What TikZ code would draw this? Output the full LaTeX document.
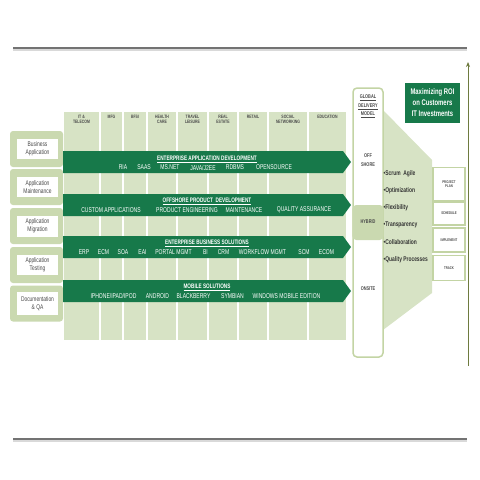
\documentclass[tikz,border=0pt]{standalone}
\usepackage{fontspec}
\setmainfont{Liberation Sans}[FakeStretch=0.72]
\usetikzlibrary{arrows.meta}

\definecolor{verdeEscuro}{HTML}{17794A}
\definecolor{verdeClaro}{HTML}{D7E3C5}
\definecolor{verdeCaixa}{HTML}{CAD9B0}
\definecolor{verdeBorda}{HTML}{C3D4A4}
\definecolor{oliva}{HTML}{6E7B3F}
\definecolor{textoCinza}{HTML}{4A4A4A}

\tikzset{
  caixaBranca/.style={fill=white, inner sep=0pt, minimum width=41pt, align=center, font=\fontsize{6.8}{7.8}\selectfont, text=textoCinza},
  cabecalho/.style={align=center, font=\fontsize{4.8}{5.4}\bfseries\selectfont, text=textoCinza, inner sep=0pt},
  tituloBanda/.style={text=white, font=\fontsize{6.5}{7}\bfseries\selectfont, inner sep=0pt},
  itemBanda/.style={text=white, font=\fontsize{7}{7.5}\selectfont, inner sep=0pt},
  modelo/.style={font=\fontsize{5.4}{8.4}\bfseries\selectfont, text=textoCinza, align=center, inner sep=0pt},
  topico/.style={font=\fontsize{6.8}{7.5}\bfseries\selectfont, text=black!80, anchor=west, inner sep=0pt},
  etapa/.style={draw=verdeBorda, line width=1.2pt, fill=white, minimum width=32pt, align=center, font=\fontsize{3.9}{4.5}\bfseries\selectfont, text=textoCinza, inner sep=0pt}
}

\begin{document}
\begin{tikzpicture}[x=1pt, y=-1pt] %uma unidade = um pixel da figura, y para baixo

\useasboundingbox (0,0) rectangle (480,480);

%Linhas cinzas de cima e de baixo (com uma sombra clara por baixo)
%---------------------------------------------------
\coordinate (linhaSupE) at (13,48);
\coordinate (linhaSupD) at (467,48);
\coordinate (linhaInfE) at (13,439);
\coordinate (linhaInfD) at (467,439);
\draw[line width=4pt, black!15] ([yshift=-1pt]linhaSupE) -- ([yshift=-1pt]linhaSupD);
\draw[line width=2.2pt, black!55] (linhaSupE) -- (linhaSupD);
\draw[line width=4pt, black!15] ([yshift=-1pt]linhaInfE) -- ([yshift=-1pt]linhaInfD);
\draw[line width=2.2pt, black!55] (linhaInfE) -- (linhaInfD);
%---------------------------------------------------

%Colunas dos setores: cada par (inicio/fim) define uma coluna verde clara
%---------------------------------------------------
\foreach \xa/\xb/\setor [count=\i] in {63/100/{IT \&\\TELECOM}, 100/123/MFG, 123/147/BFSI,
  147/177/{HEALTH\\CARE}, 177/208/{TRAVEL\\LEISURE}, 208/238/{REAL\\ESTATE},
  238/268/RETAIL, 268/308/{SOCIAL\\NETWORKING}, 308/347/EDUCATION}{
  \fill[verdeClaro] (\xa+0.7,112) rectangle (\xb-0.7,340);
  \node[cabecalho, anchor=north] (setor\i) at ({(\xa+\xb)/2},114.5) {\setor};
}
%---------------------------------------------------

%Caixas da esquerda (servicos): centro / altura da caixa branca / texto
%---------------------------------------------------
\foreach \yc/\alt/\servico [count=\i] in {149/20/{Business\\Application}, 187/20/{Application\\Maintenance},
  226/21/{Application\\Migration}, 265/20/{Application\\Testing}, 303.5/23/{Documentation\\\& QA}}{
  \fill[verdeCaixa, rounded corners=3pt] (10,\yc-18) rectangle (63,\yc+18);
  \node[caixaBranca, minimum height=\alt pt] (servico\i) at (37.5,\yc) {\servico};
}
%---------------------------------------------------

%Faixas verdes em forma de seta (topo / base)
%---------------------------------------------------
\foreach \yt/\yb in {151/173, 194/216, 236/258, 280/302}{
  \fill[verdeEscuro] (63,\yt) -- (343,\yt) -- (351,{(\yt+\yb)/2}) -- (343,\yb) -- (63,\yb) -- cycle;
}

\node[tituloBanda] (faixa1) at (207,159) {\underline{ENTERPRISE APPLICATION DEVELOPMENT}};
\foreach \xc/\item [count=\i] in {123/RIA, 144/SAAS, 170/MS.NET, 203/{JAVA/J2EE}, 235/RDBMS, 274/OPENSOURCE}{
  \node[itemBanda] (faixa1item\i) at (\xc,167.5) {\item};
}

\node[tituloBanda] (faixa2) at (207,201.5) {\underline{OFFSHORE PRODUCT \ DEVELOPMENT}};
\foreach \xc/\item [count=\i] in {111/CUSTOM APPLICATIONS, 187/PRODUCT ENGINEERING, 244/MAINTENANCE, 304/QUALITY ASSURANCE}{
  \node[itemBanda] (faixa2item\i) at (\xc,210) {\item};
}

\node[tituloBanda] (faixa3) at (207,243.5) {\underline{ENTERPRISE BUSINESS SOLUTIONS}};
\foreach \xc/\item [count=\i] in {84/ERP, 103.5/ECM, 123/SOA, 142.5/EAI, 173.5/PORTAL MGMT, 205.5/BI,
  223.5/CRM, 262.5/WORKFLOW MGMT, 304/SCM, 326.5/ECOM}{
  \node[itemBanda] (faixa3item\i) at (\xc,252) {\item};
}

\node[tituloBanda] (faixa4) at (207,287.5) {\underline{MOBILE SOLUTIONS}};
\foreach \xc/\item [count=\i] in {113.5/{IPHONE/IPAD/IPOD}, 157.5/ANDROID, 193.5/BLACKBERRY, 232.5/SYMBIAN, 286.5/WINDOWS MOBILE EDITION}{
  \node[itemBanda] (faixa4item\i) at (\xc,296) {\item};
}
%---------------------------------------------------

%Area verde clara atras dos topicos
%---------------------------------------------------
\fill[verdeClaro] (375,110) -- (383,110) -- (432,160) -- (432,293) -- (383,330) -- (375,330) -- cycle;
%---------------------------------------------------

%Coluna do modelo de entrega
%---------------------------------------------------
\draw[verdeBorda, line width=1.5pt, fill=white, rounded corners=4pt] (353,88) rectangle (383,357);
\fill[verdeCaixa, rounded corners=4pt] (352.3,205) rectangle (383.7,240);
\node[modelo] (global) at (368,106.5) {\underline{GLOBAL}\\\underline{DELIVERY}\\\underline{MODEL}};
\node[modelo] (offshore) at (368,160) {OFF\\SHORE};
\node[modelo] (hybrid) at (368,222) {HYBRID};
\node[modelo] (onsite) at (368,289) {ONSITE};
%---------------------------------------------------

%Topicos
%---------------------------------------------------
\foreach \yc/\topico [count=\i] in {174/Scrum \ Agile, 191/Optimization, 208/Flexibility,
  225/Transparency, 242/Collaboration, 260/Quality Processes}{
  \node[topico] (topico\i) at (383.5,\yc) {\textbullet\topico};
}
%---------------------------------------------------

%Etapas da direita
%---------------------------------------------------
\node[etapa, minimum height=33pt] (plano) at (449,184) {PROJECT\\PLAN};
\node[etapa, minimum height=23pt] (cronograma) at (449,213.5) {SCHEDULE};
\node[etapa, minimum height=24pt] (implementa) at (449,240) {IMPLEMENT};
\node[etapa, minimum height=25pt] (acompanha) at (449,268) {TRACK};
%---------------------------------------------------

%Caixa verde do ROI
%---------------------------------------------------
\node[fill=verdeEscuro, text=white, minimum width=55pt, minimum height=40pt, align=center,
  font=\fontsize{8.2}{11}\bfseries\selectfont, inner sep=0pt] (roi) at (432.5,103)
  {Maximizing ROI\\on Customers\\IT Investments};
%---------------------------------------------------

%Seta vertical
%---------------------------------------------------
\coordinate (setaIni) at (468,366);
\coordinate (setaFim) at (468,62);
\draw[oliva, line width=0.9pt, -{Stealth[length=5pt, width=4pt]}] (setaIni) -- (setaFim);
%---------------------------------------------------

\end{tikzpicture}
\end{document}
